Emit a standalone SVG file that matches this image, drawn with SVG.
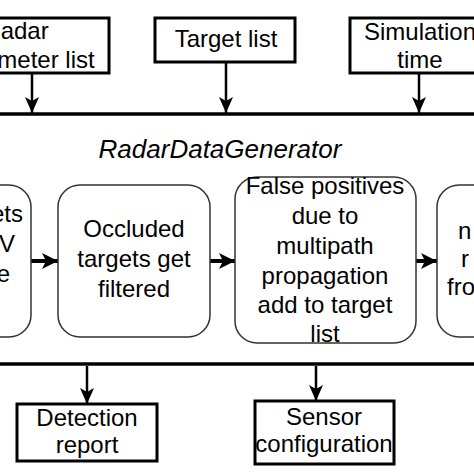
<svg xmlns="http://www.w3.org/2000/svg" width="474" height="474" viewBox="0 0 474 474">
<style>
  text { font-family: "Liberation Sans", Arial, sans-serif; font-size: 24px; fill: #000; }
  .c { text-anchor: middle; }
  .sq { fill: #fff; stroke: #000; stroke-width: 3; }
  .rd { fill: #fff; stroke: #333; stroke-width: 1.5; }
  .bus { stroke: #000; stroke-width: 3.5; fill: none; }
  .v { stroke: #000; stroke-width: 2.5; fill: none; marker-end: url(#av); }
  .h { stroke: #000; stroke-width: 4; fill: none; marker-end: url(#ah); }
</style>
<defs>
  <marker id="av" viewBox="0 0 14 16" refX="7" refY="16" markerWidth="14" markerHeight="16" orient="0" markerUnits="userSpaceOnUse">
    <path d="M0,0 L7,16 L14,0 L7,4 Z" fill="#000"/>
  </marker>
  <marker id="ah" viewBox="0 0 16 16" refX="16" refY="8" markerWidth="16" markerHeight="16" orient="auto" markerUnits="userSpaceOnUse">
    <path d="M0,0 L16,8 L0,16 L4,8 Z" fill="#000"/>
  </marker>
</defs>
<rect width="474" height="474" fill="#fff"/>

<g id="connectors">
  <line class="bus" x1="0" y1="114" x2="474" y2="114"/>
  <line class="bus" x1="0" y1="364" x2="474" y2="364"/>
  <line class="v" x1="32" y1="74" x2="32" y2="113"/>
  <line class="v" x1="226" y1="62" x2="226" y2="113"/>
  <line class="v" x1="419" y1="74" x2="419" y2="113"/>
  <line class="h" x1="31" y1="261" x2="58" y2="261"/>
  <line class="h" x1="210" y1="261" x2="235" y2="261"/>
  <line class="h" x1="416" y1="261" x2="437" y2="261"/>
  <line class="v" x1="87" y1="366" x2="87" y2="404"/>
  <line class="v" x1="316" y1="366" x2="316" y2="401"/>
</g>

<g id="radar-parameter-list">
  <rect class="sq" x="-60" y="18" width="169" height="55"/>
  <text class="c" x="16" y="39">Radar</text>
  <text class="c" x="22" y="68">parameter list</text>
</g>
<g id="target-list">
  <rect class="sq" x="155" y="18" width="140" height="44"/>
  <text class="c" x="226" y="47">Target list</text>
</g>
<g id="simulation-time">
  <rect class="sq" x="350" y="18" width="140" height="55"/>
  <text class="c" x="420" y="40">Simulation</text>
  <text class="c" x="420" y="68">time</text>
</g>

<g id="title">
  <text class="c" x="220" y="158" style="font-size:26px;font-style:italic">RadarDataGenerator</text>
</g>

<g id="step1">
  <rect class="rd" x="-121" y="185" width="152" height="152" rx="22" ry="22"/>
  <text x="23" y="222" text-anchor="end">ets</text>
  <text x="15" y="252" text-anchor="end">V</text>
  <text x="10" y="282" text-anchor="end">e</text>
</g>
<g id="step2">
  <rect class="rd" x="58" y="185" width="152" height="152" rx="22" ry="22"/>
  <text class="c" x="134" y="237">Occluded</text>
  <text class="c" x="134" y="267">targets get</text>
  <text class="c" x="134" y="297">filtered</text>
</g>
<g id="step3">
  <rect class="rd" x="235" y="177" width="181" height="166" rx="22" ry="22"/>
  <text class="c" x="325" y="194">False positives</text>
  <text class="c" x="325" y="224">due to</text>
  <text class="c" x="325" y="254">multipath</text>
  <text class="c" x="325" y="284">propagation</text>
  <text class="c" x="325" y="313">add to target</text>
  <text class="c" x="325" y="342">list</text>
</g>
<g id="step4">
  <rect class="rd" x="437" y="185" width="152" height="152" rx="22" ry="22"/>
  <text x="458" y="239">n</text>
  <text x="461" y="267">r</text>
  <text x="447" y="295">fro</text>
</g>

<g id="detection-report">
  <rect class="sq" x="17" y="404" width="140" height="57"/>
  <text class="c" x="87" y="426">Detection</text>
  <text class="c" x="87" y="453">report</text>
</g>
<g id="sensor-configuration">
  <rect class="sq" x="255" y="401" width="139" height="63"/>
  <text class="c" x="324" y="425">Sensor</text>
  <text class="c" x="324" y="452">configuration</text>
</g>
</svg>
